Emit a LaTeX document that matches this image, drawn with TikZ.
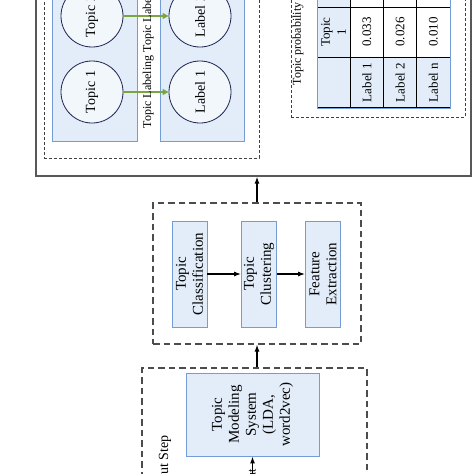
\documentclass[tikz,border=0pt]{standalone}
\usepackage{fontspec}
\setmainfont{Liberation Serif}
\usetikzlibrary{arrows.meta}
\definecolor{boxline}{RGB}{116,156,214}
\definecolor{boxfill}{RGB}{226,237,249}
\definecolor{circline}{RGB}{28,34,78}
\definecolor{linkgreen}{RGB}{122,166,62}
\definecolor{framegray}{RGB}{88,88,88}

\begin{document}
\begin{tikzpicture}[x=1pt,y=-1pt,
   stepbox/.style={draw=boxline,fill=boxfill,thick,rotate=90,align=center,inner sep=0pt,font=\fontsize{15}{17}\selectfont},
   holder/.style={draw=boxline,fill=boxfill,thick,inner sep=0pt},
   topic/.style={circle,draw=circline,fill=white!55!boxfill,thick,minimum size=62pt,inner sep=0pt,rotate=90,font=\fontsize{14}{15}\selectfont},
   cell/.style={draw=black,thick,rotate=90,align=center,inner sep=0pt,minimum width=50pt,minimum height=33.25pt,font=\fontsize{13}{16}\selectfont},
   fine/.style={draw=black!75,line width=0.8pt,dash pattern=on 3pt off 2pt},
   coarse/.style={draw=black!70,line width=1.1pt,dash pattern=on 6.5pt off 4pt},
   link/.style={-{Latex[length=7pt,width=5pt]},line width=1.2pt},
   greenlink/.style={-{Triangle[length=6pt,width=6pt]},draw=linkgreen,line width=1.2pt},
   note/.style={rotate=90,font=\fontsize{12}{13}\selectfont}
]
\useasboundingbox (0,0) rectangle (474,474);
\clip (0,0) rectangle (474,474);

% labeling stage
\node[draw=framegray,line width=1.2pt,minimum width=435pt,minimum height=330pt] (main) at (253.5,11) {};
\node[fine,minimum width=215pt,minimum height=308pt] (labeling) at (151.5,4) {};
\node[fine,minimum width=174pt,minimum height=267pt] (probs) at (378,-16.5) {};
\node[holder,minimum width=85pt,minimum height=291pt] (topics) at (94.5,-4.5) {};
\node[holder,minimum width=84pt,minimum height=291pt] (labels) at (202,-4.5) {};
\foreach \y/\n in {92/1,16/2}{
  \node[topic] (t\n) at (92,\y) {Topic \n};
  \node[topic] (l\n) at (200,\y) {Label \n};
  \draw[greenlink] (t\n) -- node[note,pos=0.55] {Topic Labeling} (l\n);
}

% probability table
\node[note] (ptitle) at (298,44) {Topic probability};
\foreach \x/\lab/\val [count=\i] in {366.9/Label 1/0.033,400.1/Label 2/0.026,433.4/Label n/0.010}{
  \node[cell,fill=boxfill] (r\i) at (\x,82.5) {\lab};
  \node[cell,fill=white] (v\i) at (\x,32) {\val};
  \node[cell,fill=white] (w\i) at (\x,-18) {};
}
\node[cell,fill=boxfill] (corner) at (333.6,82.5) {};
\node[cell,fill=boxfill] (h1) at (333.6,32) {Topic\\1};
\node[cell,fill=boxfill] (h2) at (333.6,-18) {Topic\\2};
\draw[boxline,thick] (317,-100) rectangle (450,108);

% steps
\node[coarse,minimum width=208pt,minimum height=141pt] (steps) at (257,273.5) {};
\node[stepbox,minimum width=106pt,minimum height=35pt] (cls) at (189.5,274) {Topic\\Classification};
\node[stepbox,minimum width=106pt,minimum height=35pt] (clu) at (259,274) {Topic\\Clustering};
\node[stepbox,minimum width=106pt,minimum height=35pt] (fex) at (323,274) {Feature\\Extraction};
\draw[link] (cls) -- (clu);
\draw[link] (clu) -- (fex);
\draw[link] (steps.north) -- (steps.north |- main.south);

% input
\node[coarse,minimum width=225pt,minimum height=192pt] (input) at (254.5,464) {};
\node[stepbox,minimum width=83pt,minimum height=133pt] (tms) at (252.5,414.5) {Topic\\Modeling\\System\\(LDA,\\word2vec)};
\node[rotate=90,anchor=east,font=\fontsize{14}{15}\selectfont] (steplabel) at (165,432) {Input Step};
\coordinate (src) at (252.5,520);
\draw[link] (src) -- (tms);
\draw[link] (steps.south |- input.north) -- (steps.south);
\node[note,anchor=east] (inlabel) at (253,466) {Input};
\end{tikzpicture}
\end{document}
